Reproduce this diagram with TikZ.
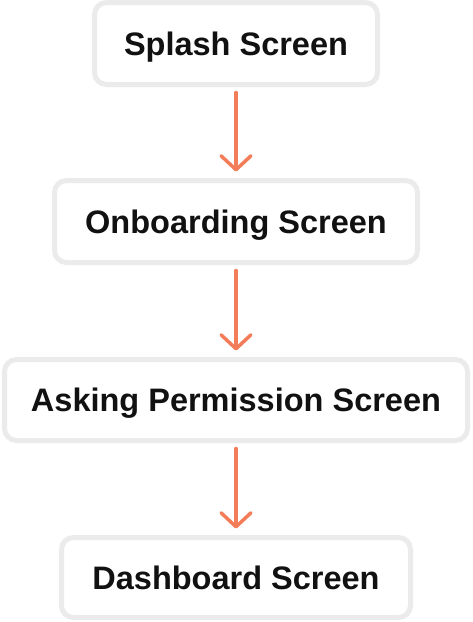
\documentclass[tikz,border=0pt]{standalone}
\usepackage{fontspec}
\setmainfont{Liberation Sans}
\usetikzlibrary{arrows.meta}
\definecolor{boxline}{HTML}{EBEBEB}
\definecolor{arrowc}{HTML}{F47D59}
\definecolor{txt}{HTML}{111111}
\begin{document}
\begin{tikzpicture}[x=1pt,y=-1pt,
  screen/.style={draw=boxline, line width=5pt, fill=white, rounded corners=12pt,
     font=\fontsize{32.5}{38}\selectfont\bfseries, text=txt, inner sep=0pt,
     text height=23.3pt, text depth=0pt},
  flow/.style={draw=arrowc, line width=3.5pt, line cap=round,
     -{Straight Barb[length=14pt,width=30pt,line width=3.5pt,round]}}]
\useasboundingbox (0,0) rectangle (472,622);
\node[screen, minimum width=283pt, minimum height=82pt] (s1) at (236,43.5) {Splash Screen};
\node[screen, minimum width=363pt, minimum height=82pt] (s2) at (236,221.5) {Onboarding Screen};
\node[screen, minimum width=463pt, minimum height=81pt] (s3) at (236,400) {Asking Permission Screen};
\node[screen, minimum width=349pt, minimum height=80pt] (s4) at (236,577.5) {Dashboard Screen};
\draw[flow] ([yshift=-5.5pt]s1.south) -- ([yshift=6.5pt]s2.north);
\draw[flow] ([yshift=-5.5pt]s2.south) -- ([yshift=6.5pt]s3.north);
\draw[flow] ([yshift=-5.5pt]s3.south) -- ([yshift=6.5pt]s4.north);
\end{tikzpicture}
\end{document}
